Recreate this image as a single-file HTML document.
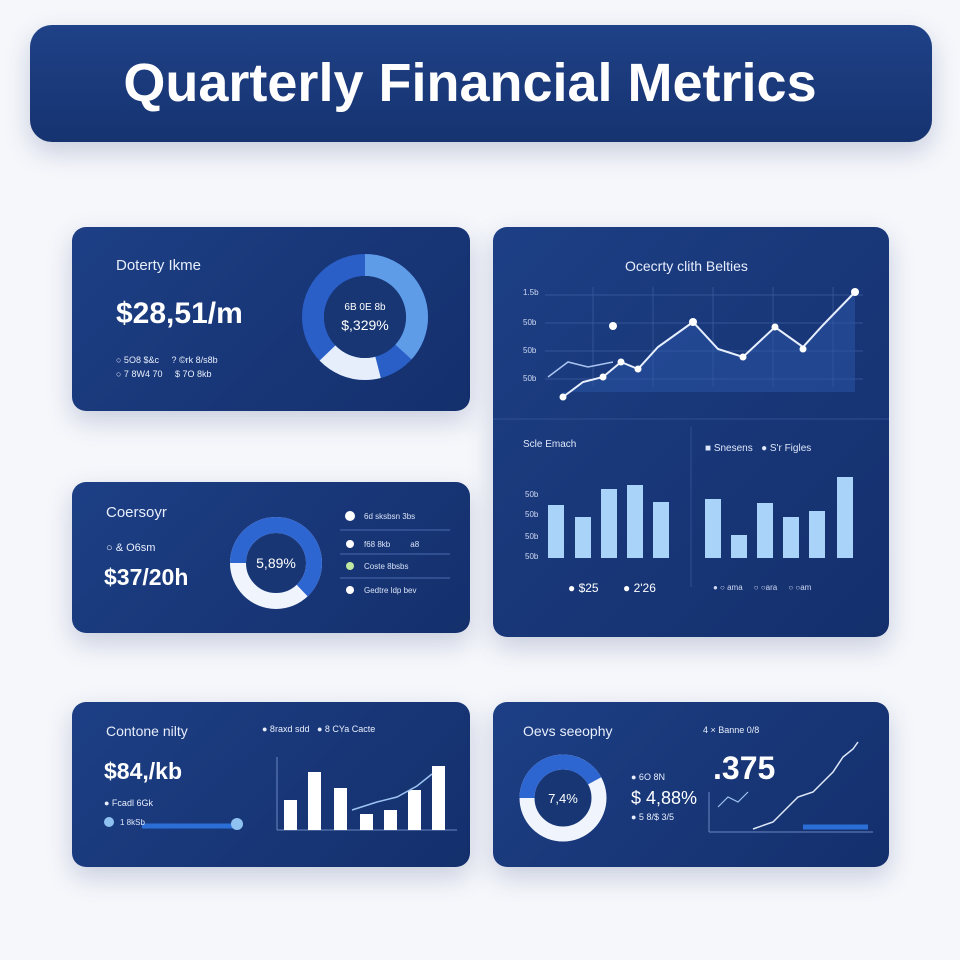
<!DOCTYPE html>
<html><head><meta charset="utf-8"><style>
html,body{margin:0;padding:0;width:960px;height:960px;overflow:hidden;background:#f5f7fb;font-family:"Liberation Sans",sans-serif;}
.c{position:absolute;border-radius:14px;background:linear-gradient(135deg,#1d3f85,#142f6c);box-shadow:0 10px 26px rgba(40,60,120,0.22);color:#fff;}
.t{position:absolute;color:#e8eefc;}
</style></head><body>
<div class="c" style="left:30px;top:25px;width:902px;height:117px;border-radius:22px;background:linear-gradient(180deg,#1f4187,#163370);">
<div style="position:absolute;left:0;right:22px;top:27px;text-align:center;font-size:54px;font-weight:bold;letter-spacing:0px;">Quarterly Financial Metrics</div></div>

<!-- card1 -->
<div class="c" style="left:72px;top:227px;width:398px;height:184px;">
<div class="t" style="left:44px;top:30px;font-size:15px;">Doterty Ikme</div>
<div class="t" style="left:44px;top:70px;font-size:30px;font-weight:bold;color:#fff;">$28,51/m</div>
<div class="t" style="left:44px;top:128px;font-size:9px;">○ 5O8 $&amp;c &nbsp;&nbsp;&nbsp; ? ©rk 8/s8b</div>
<div class="t" style="left:44px;top:142px;font-size:9px;">○ 7 8W4 70 &nbsp;&nbsp;&nbsp; $ 7O 8kb</div>
<svg style="position:absolute;left:228px;top:25px" width="130" height="130" viewBox="0 0 130 130">
<circle cx="65" cy="65" r="52" fill="none" stroke="#2a5fc7" stroke-width="22"/>
<circle cx="65" cy="65" r="52" fill="none" stroke="#5f9ce8" stroke-width="22" stroke-dasharray="120 400" transform="rotate(-90 65 65)"/>
<circle cx="65" cy="65" r="52" fill="none" stroke="#e6eefc" stroke-width="22" stroke-dasharray="55 400" stroke-dashoffset="-150" transform="rotate(-90 65 65)"/>
<circle cx="65" cy="65" r="41" fill="#173673"/>
<text x="65" y="58" font-size="10" fill="#fff" text-anchor="middle" font-family="Liberation Sans">6B 0E 8b</text>
<text x="65" y="78" font-size="14" fill="#fff" text-anchor="middle" font-family="Liberation Sans">$,329%</text></svg>
</div>

<!-- card2 -->
<div class="c" style="left:493px;top:227px;width:396px;height:410px;">
<div class="t" style="left:132px;top:31px;font-size:14px;">Ocecrty clith Belties</div>
<svg style="position:absolute;left:0;top:0" width="396" height="410">
<g stroke="#3d5ea0" stroke-width="0.7">
<line x1="52" y1="68" x2="370" y2="68"/><line x1="52" y1="96" x2="370" y2="96"/><line x1="52" y1="124" x2="370" y2="124"/><line x1="52" y1="152" x2="370" y2="152"/>
<line x1="100" y1="60" x2="100" y2="160"/><line x1="160" y1="60" x2="160" y2="160"/><line x1="220" y1="60" x2="220" y2="160"/><line x1="280" y1="60" x2="280" y2="160"/><line x1="340" y1="60" x2="340" y2="160"/>
</g>
<g font-size="8" fill="#cfd9f2" font-family="Liberation Sans"><text x="30" y="68">1.5b</text><text x="30" y="98">50b</text><text x="30" y="126">50b</text><text x="30" y="154">50b</text></g>
<polygon points="70,170 90,155 110,150 128,135 145,142 165,120 200,95 225,122 250,130 282,100 310,120 330,98 362,65 362,165 70,165" fill="#2b56a8" opacity="0.5"/>
<polyline points="70,170 90,155 110,150 128,135 145,142 165,120 200,95 225,122 250,130 282,100 310,120 330,98 362,65" fill="none" stroke="#e8f0ff" stroke-width="2"/>
<polyline points="55,150 75,135 95,140 120,135" fill="none" stroke="#aac4f0" stroke-width="1.5"/>
<g fill="#fff"><circle cx="70" cy="170" r="3.5"/><circle cx="110" cy="150" r="3.5"/><circle cx="128" cy="135" r="3.5"/><circle cx="145" cy="142" r="3.5"/><circle cx="200" cy="95" r="4"/><circle cx="250" cy="130" r="3.5"/><circle cx="282" cy="100" r="3.5"/><circle cx="310" cy="122" r="3.5"/><circle cx="362" cy="65" r="4"/><circle cx="120" cy="99" r="4"/></g>
<line x1="0" y1="192" x2="396" y2="192" stroke="#2f4f90"/>
<line x1="198" y1="200" x2="198" y2="360" stroke="#2f4f90"/>
<g font-size="10" fill="#dfe7fa" font-family="Liberation Sans"><text x="30" y="220">Scle Emach</text><text x="212" y="224">■ Snesens &nbsp; ● S'r Figles</text></g>
<g font-size="8" fill="#cfd9f2" font-family="Liberation Sans"><text x="32" y="270">50b</text><text x="32" y="290">50b</text><text x="32" y="312">50b</text><text x="32" y="332">50b</text></g>
<g fill="#a9d3f8"><rect x="55" y="278" width="16" height="53"/><rect x="82" y="290" width="16" height="41"/><rect x="108" y="262" width="16" height="69"/><rect x="134" y="258" width="16" height="73"/><rect x="160" y="275" width="16" height="56"/>
<rect x="212" y="272" width="16" height="59"/><rect x="238" y="308" width="16" height="23"/><rect x="264" y="276" width="16" height="55"/><rect x="290" y="290" width="16" height="41"/><rect x="316" y="284" width="16" height="47"/><rect x="344" y="250" width="16" height="81"/></g>
<g font-size="12" fill="#fff" font-family="Liberation Sans"><text x="75" y="365">● $25</text><text x="130" y="365">● 2'26</text></g>
<g font-size="8" fill="#cfd9f2" font-family="Liberation Sans"><text x="220" y="363">● ○ ama &nbsp;&nbsp;&nbsp; ○ ○ara &nbsp;&nbsp;&nbsp; ○ ○am</text></g>
</svg></div>

<!-- card3 -->
<div class="c" style="left:72px;top:482px;width:398px;height:151px;">
<div class="t" style="left:34px;top:22px;font-size:15px;">Coersoyr</div>
<div class="t" style="left:34px;top:60px;font-size:11px;">○ &amp; O6sm</div>
<div class="t" style="left:32px;top:82px;font-size:23px;font-weight:bold;color:#fff;">$37/20h</div>
<svg style="position:absolute;left:156px;top:33px" width="96" height="96" viewBox="0 0 96 96">
<circle cx="48" cy="48" r="38" fill="none" stroke="#f0f4fc" stroke-width="16"/>
<circle cx="48" cy="48" r="38" fill="none" stroke="#2d65d1" stroke-width="16" stroke-dasharray="150 400" transform="rotate(-180 48 48)"/>
<circle cx="48" cy="48" r="29" fill="#173673"/>
<text x="48" y="53" font-size="14" fill="#fff" text-anchor="middle" font-family="Liberation Sans">5,89%</text></svg>
<svg style="position:absolute;left:268px;top:22px" width="120" height="100">
<g fill="#fff"><circle cx="10" cy="12" r="5"/><circle cx="10" cy="40" r="4"/><circle cx="10" cy="62" r="4" fill="#bfe8a0"/><circle cx="10" cy="86" r="4"/></g>
<g stroke="#4a6bb0"><line x1="0" y1="26" x2="110" y2="26"/><line x1="0" y1="50" x2="110" y2="50"/><line x1="0" y1="74" x2="110" y2="74"/></g>
<g font-size="8" fill="#d9e3f7" font-family="Liberation Sans"><text x="24" y="15">6d sksbsn 3bs</text><text x="24" y="43">f68 8kb &nbsp;&nbsp;&nbsp;&nbsp;&nbsp;&nbsp;&nbsp; a8</text><text x="24" y="65">Coste 8bsbs</text><text x="24" y="89">Gedtre ldp bev</text></g></svg>
</div>

<!-- card4 -->
<div class="c" style="left:72px;top:702px;width:398px;height:165px;">
<div class="t" style="left:34px;top:21px;font-size:14px;">Contone nilty</div>
<div class="t" style="left:190px;top:22px;font-size:9px;">● 8raxd sdd &nbsp;&nbsp;● 8 CYa Cacte</div>
<div class="t" style="left:32px;top:56px;font-size:23px;font-weight:bold;color:#fff;">$84,/kb</div>
<div class="t" style="left:32px;top:96px;font-size:9px;">● Fcadl 6Gk</div>
<svg style="position:absolute;left:30px;top:110px" width="150" height="20"><circle cx="7" cy="10" r="5" fill="#8fc2f0"/><line x1="40" y1="14" x2="135" y2="14" stroke="#2b6ed6" stroke-width="5"/><circle cx="135" cy="12" r="6" fill="#8fc2f0"/><text x="18" y="13" font-size="8" fill="#dfe7fa" font-family="Liberation Sans">1 8kSb</text></svg>
<svg style="position:absolute;left:200px;top:50px" width="190" height="90">
<line x1="5" y1="5" x2="5" y2="78" stroke="#6b86c0"/><line x1="5" y1="78" x2="185" y2="78" stroke="#6b86c0"/>
<g fill="#fff"><rect x="12" y="48" width="13" height="30"/><rect x="36" y="20" width="13" height="58"/><rect x="62" y="36" width="13" height="42"/><rect x="88" y="62" width="13" height="16"/><rect x="112" y="58" width="13" height="20"/><rect x="136" y="38" width="13" height="40"/><rect x="160" y="14" width="13" height="64"/></g>
<polyline points="80,58 105,50 125,45 145,34 160,22" fill="none" stroke="#9cc4f2" stroke-width="1.5"/></svg>
</div>

<!-- card5 -->
<div class="c" style="left:493px;top:702px;width:396px;height:165px;">
<div class="t" style="left:30px;top:21px;font-size:14px;">Oevs seeophy</div>
<svg style="position:absolute;left:24px;top:50px" width="92" height="92" viewBox="0 0 92 92">
<circle cx="46" cy="46" r="36" fill="none" stroke="#f0f4fc" stroke-width="15"/>
<circle cx="46" cy="46" r="36" fill="none" stroke="#2d65d1" stroke-width="15" stroke-dasharray="95 400" transform="rotate(-180 46 46)"/>
<circle cx="46" cy="46" r="28" fill="#173673"/>
<text x="46" y="51" font-size="13" fill="#fff" text-anchor="middle" font-family="Liberation Sans">7,4%</text></svg>
<div class="t" style="left:138px;top:70px;font-size:9px;">● 6O 8N</div>
<div class="t" style="left:138px;top:86px;font-size:18px;color:#fff;">$ 4,88%</div>
<div class="t" style="left:138px;top:110px;font-size:9px;">● 5 8/$ 3/5</div>
<div class="t" style="left:210px;top:23px;font-size:9px;">4 × Banne 0/8</div>
<div class="t" style="left:220px;top:48px;font-size:32px;font-weight:bold;color:#fff;">.375</div>
<svg style="position:absolute;left:210px;top:35px" width="175" height="100">
<line x1="6" y1="55" x2="6" y2="95" stroke="#6b86c0"/><line x1="6" y1="95" x2="170" y2="95" stroke="#6b86c0"/>
<line x1="100" y1="90" x2="165" y2="90" stroke="#2b6ed6" stroke-width="5"/>
<polyline points="50,92 70,85 85,70 95,60 110,55 120,45 130,35 140,20 150,12 155,5" fill="none" stroke="#dfe9fb" stroke-width="1.5"/>
<polyline points="15,70 25,60 35,65 45,55" fill="none" stroke="#9cc4f2" stroke-width="1.2"/></svg>
</div>
</body></html>
